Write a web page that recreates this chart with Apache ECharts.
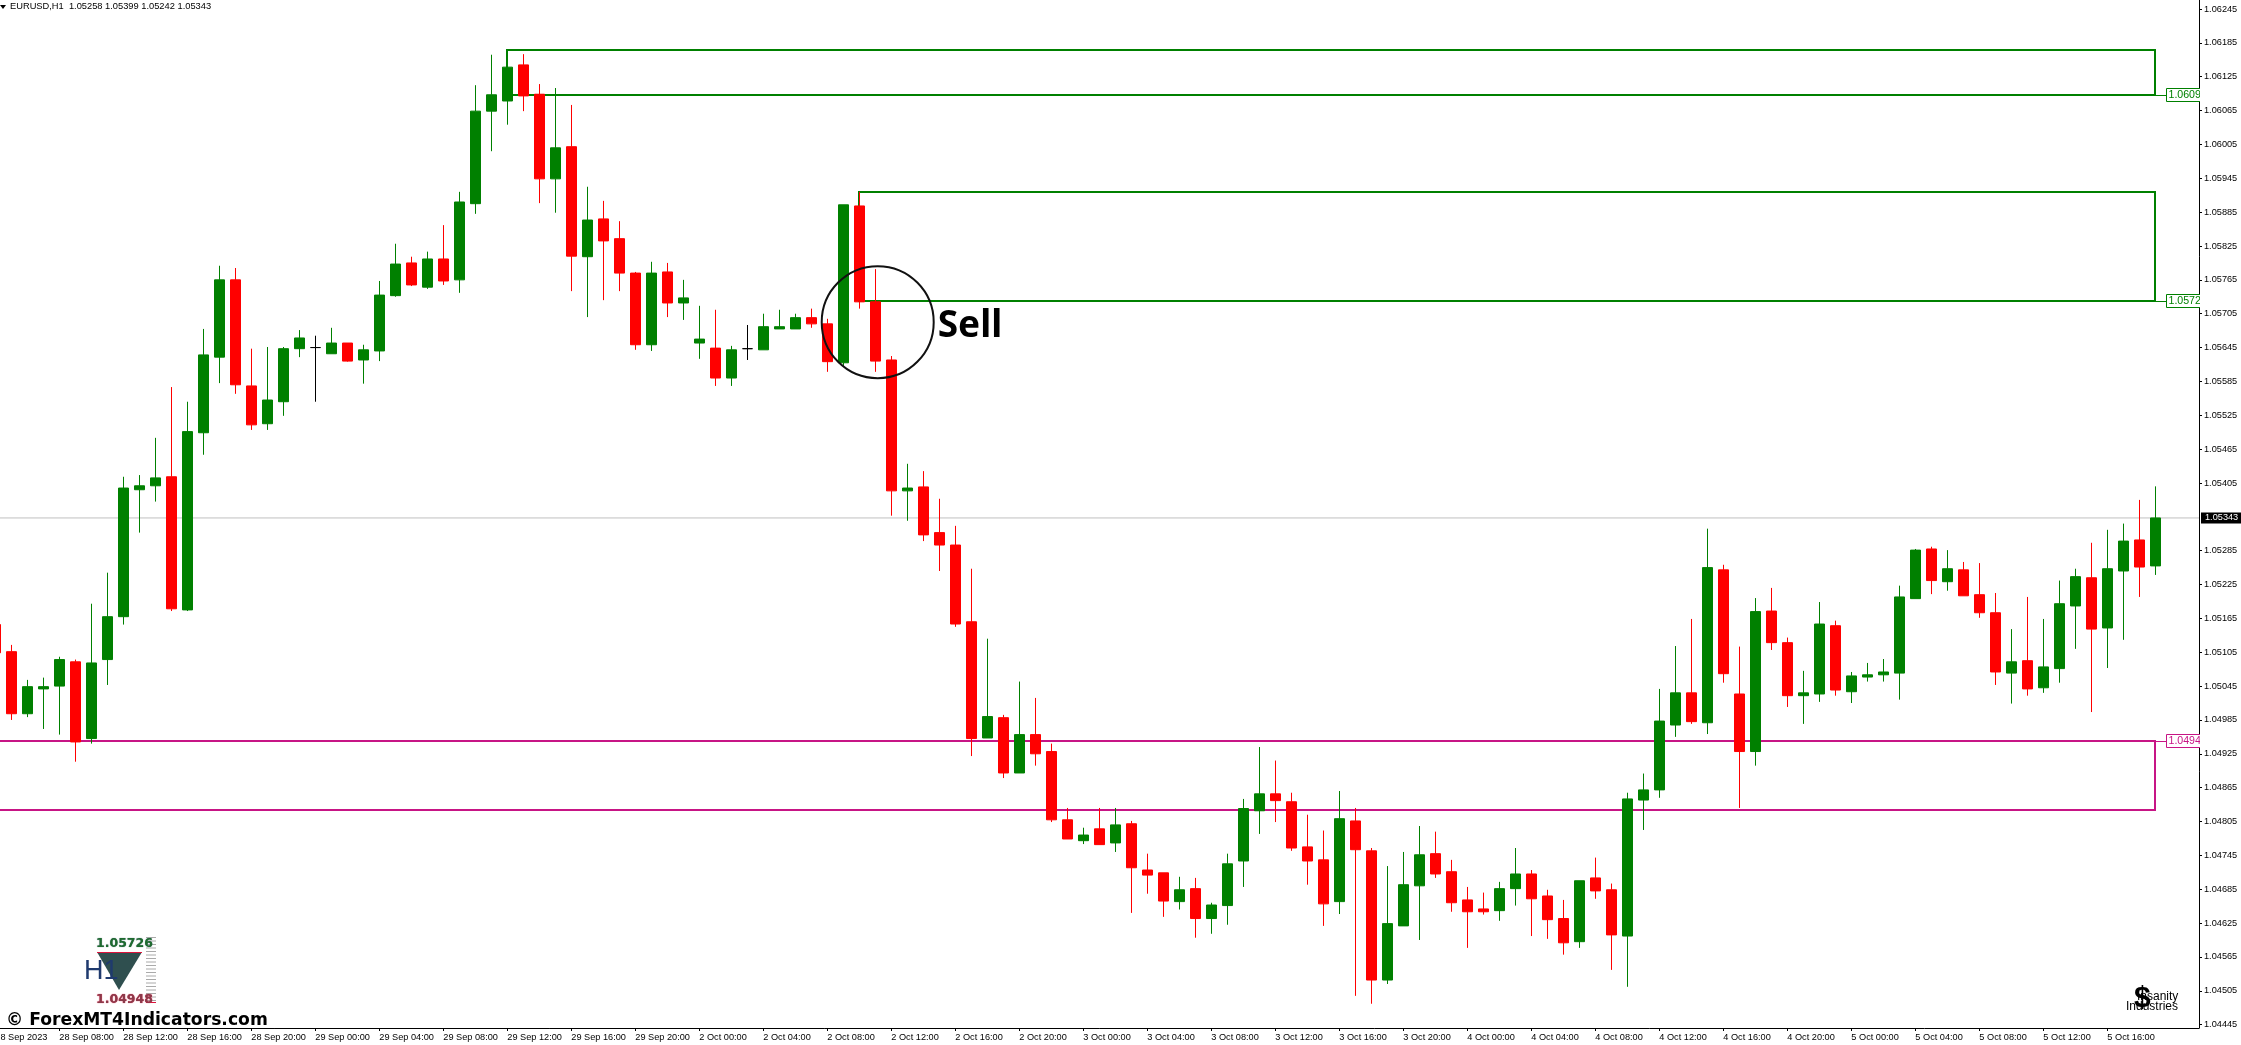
<!DOCTYPE html>
<html>
<head>
<meta charset="utf-8">
<title>EURUSD H1</title>
<script src="https://cdn.jsdelivr.net/npm/echarts@6/dist/echarts.min.js"></script>
<style>
	html, body { margin: 0; padding: 0; background: #fff; }
	#chart { width: 2241px; height: 1045px; }
</style>
</head>
<body>
<div id="chart"></div>
<script>
// hourly bars, first one is cut off by the left edge
var opens = [
	1.05154,1.05106,1.04996,1.05040,1.05045,1.05088,1.04952,1.05092,1.05168,1.05393,
	1.05400,1.05416,1.05180,1.05494,1.05628,1.05765,1.05577,1.05510,1.05549,1.05643,
	1.05645,1.05634,1.05653,1.05623,1.05639,1.05737,1.05795,1.05752,1.05802,1.05765,
	1.05900,1.06064,1.06082,1.06146,1.06094,1.05944,1.06001,1.05806,1.05873,1.05838,
	1.05777,1.05650,1.05779,1.05724,1.05653,1.05644,1.05591,1.05643,1.05641,1.05678,
	1.05678,1.05698,1.05687,1.05618,1.05896,1.05726,1.05623,1.05391,1.05398,1.05317,
	1.05295,1.05159,1.04953,1.04989,1.04891,1.04959,1.04929,1.04808,1.04771,1.04792,
	1.04767,1.04801,1.04719,1.04714,1.04663,1.04686,1.04633,1.04656,1.04735,1.04824,
	1.04854,1.04840,1.04760,1.04737,1.04663,1.04806,1.04753,1.04524,1.04620,1.04691,
	1.04748,1.04716,1.04666,1.04650,1.04647,1.04686,1.04712,1.04673,1.04633,1.04592,
	1.04705,1.04684,1.04602,1.04843,1.04861,1.04976,1.05033,1.04980,1.05251,1.05031,
	1.04929,1.05178,1.05122,1.05028,1.05031,1.05152,1.05035,1.05061,1.05065,1.05068,
	1.05200,1.05288,1.05230,1.05251,1.05207,1.05175,1.05068,1.05090,1.05042,1.05076,
	1.05187,1.05237,1.05148,1.05249,1.05304,1.05258
];
var closes = [
	1.05104,1.04996,1.05044,1.05044,1.05092,1.04946,1.05086,1.05168,1.05396,1.05400,
	1.05414,1.05182,1.05496,1.05632,1.05765,1.05579,1.05508,1.05552,1.05643,1.05662,
	1.05645,1.05653,1.05621,1.05641,1.05738,1.05793,1.05756,1.05802,1.05763,1.05903,
	1.06064,1.06093,1.06142,1.06091,1.05944,1.05999,1.05807,1.05871,1.05834,1.05777,
	1.05650,1.05777,1.05724,1.05733,1.05660,1.05591,1.05641,1.05643,1.05682,1.05682,
	1.05698,1.05687,1.05620,1.05898,1.05726,1.05621,1.05391,1.05396,1.05313,1.05295,
	1.05155,1.04952,1.04991,1.04891,1.04959,1.04925,1.04808,1.04774,1.04781,1.04764,
	1.04799,1.04723,1.04710,1.04664,1.04684,1.04633,1.04657,1.04730,1.04828,1.04854,
	1.04842,1.04758,1.04735,1.04659,1.04810,1.04755,1.04524,1.04624,1.04693,1.04746,
	1.04712,1.04661,1.04645,1.04645,1.04686,1.04712,1.04668,1.04631,1.04590,1.04700,
	1.04682,1.04604,1.04845,1.04861,1.04983,1.05033,1.04982,1.05255,1.05067,1.04929,
	1.05177,1.05122,1.05028,1.05033,1.05155,1.05038,1.05063,1.05065,1.05070,1.05203,
	1.05286,1.05232,1.05253,1.05205,1.05175,1.05070,1.05088,1.05040,1.05079,1.05191,
	1.05239,1.05146,1.05253,1.05302,1.05256,1.05343
];
var lows = [
	1.05104,1.04985,1.04990,1.04969,1.04959,1.04911,1.04943,1.05047,1.05154,1.05317,
	1.05372,1.05178,1.05178,1.05455,1.05582,1.05563,1.05499,1.05499,1.05524,1.05628,
	1.05549,1.05634,1.05620,1.05581,1.05621,1.05735,1.05754,1.05749,1.05756,1.05742,
	1.05882,1.05993,1.06040,1.06064,1.05901,1.05884,1.05745,1.05699,1.05729,1.05745,
	1.05641,1.05639,1.05699,1.05694,1.05625,1.05577,1.05577,1.05623,1.05641,1.05678,
	1.05678,1.05680,1.05602,1.05612,1.05714,1.05602,1.05347,1.05338,1.05302,1.05249,
	1.05150,1.04921,1.04953,1.04882,1.04891,1.04904,1.04804,1.04774,1.04765,1.04764,
	1.04751,1.04643,1.04677,1.04636,1.04649,1.04599,1.04606,1.04622,1.04689,1.04783,
	1.04804,1.04753,1.04693,1.04620,1.04641,1.04496,1.04482,1.04517,1.04620,1.04595,
	1.04705,1.04645,1.04581,1.04640,1.04629,1.04656,1.04602,1.04597,1.04569,1.04581,
	1.04668,1.04542,1.04512,1.04790,1.04847,1.04955,1.04978,1.04960,1.05051,1.04829,
	1.04904,1.05109,1.05008,1.04978,1.05017,1.05028,1.05015,1.05053,1.05053,1.05021,
	1.05200,1.05208,1.05214,1.05205,1.05166,1.05047,1.05014,1.05028,1.05033,1.05051,
	1.05111,1.04999,1.05077,1.05127,1.05203,1.05242
];
var highs = [
	1.05154,1.05118,1.05056,1.05060,1.05097,1.05092,1.05191,1.05246,1.05416,1.05419,
	1.05485,1.05575,1.05549,1.05678,1.05790,1.05786,1.05643,1.05646,1.05646,1.05676,
	1.05666,1.05680,1.05653,1.05650,1.05763,1.05829,1.05806,1.05815,1.05862,1.05921,
	1.06110,1.06164,1.06172,1.06165,1.06112,1.06105,1.06075,1.05930,1.05905,1.05869,
	1.05779,1.05797,1.05795,1.05765,1.05719,1.05712,1.05648,1.05685,1.05705,1.05712,
	1.05705,1.05714,1.05696,1.05898,1.05921,1.05784,1.05630,1.05439,1.05426,1.05377,
	1.05329,1.05253,1.05129,1.04994,1.05053,1.05024,1.04943,1.04829,1.04794,1.04829,
	1.04829,1.04806,1.04748,1.04714,1.04707,1.04705,1.04661,1.04748,1.04845,1.04937,
	1.04913,1.04856,1.04817,1.04789,1.04859,1.04829,1.04758,1.04726,1.04751,1.04797,
	1.04787,1.04737,1.04689,1.04679,1.04698,1.04758,1.04719,1.04684,1.04666,1.04700,
	1.04741,1.04695,1.04856,1.04890,1.05040,1.05116,1.05164,1.05324,1.05260,1.05115,
	1.05201,1.05219,1.05131,1.05072,1.05194,1.05161,1.05070,1.05086,1.05093,1.05223,
	1.05288,1.05292,1.05286,1.05265,1.05263,1.05210,1.05146,1.05203,1.05164,1.05232,
	1.05253,1.05299,1.05322,1.05333,1.05375,1.05399
];

var tickLabels = [
	'28 Sep 2023','28 Sep 08:00','28 Sep 12:00','28 Sep 16:00','28 Sep 20:00',
	'29 Sep 00:00','29 Sep 04:00','29 Sep 08:00','29 Sep 12:00','29 Sep 16:00','29 Sep 20:00',
	'2 Oct 00:00','2 Oct 04:00','2 Oct 08:00','2 Oct 12:00','2 Oct 16:00','2 Oct 20:00',
	'3 Oct 00:00','3 Oct 04:00','3 Oct 08:00','3 Oct 12:00','3 Oct 16:00','3 Oct 20:00',
	'4 Oct 00:00','4 Oct 04:00','4 Oct 08:00','4 Oct 12:00','4 Oct 16:00','4 Oct 20:00',
	'5 Oct 00:00','5 Oct 04:00','5 Oct 08:00','5 Oct 12:00','5 Oct 16:00'
];
var priceTicks = [
	1.06245,1.06185,1.06125,1.06065,1.06005,1.05945,1.05885,1.05825,1.05765,1.05705,
	1.05645,1.05585,1.05525,1.05465,1.05405,1.05285,1.05225,1.05165,1.05105,1.05045,
	1.04985,1.04925,1.04865,1.04805,1.04745,1.04685,1.04625,1.04565,1.04505,1.04445
];

// supply / demand zones
var zoneStart = [32, 54, 0];
var zoneEnd = [135, 135, 135];
var zoneTop = [1.06172, 1.05921, 1.04948];
var zoneBottom = [1.06093, 1.05728, 1.04826];
var zoneLabelPrice = [1.06093, 1.05728, 1.04948];
var zoneLabel = ['1.0609', '1.0572', '1.0494'];
var zoneColor = ['#008000', '#008000', '#C71585'];

var lastPrice = 1.05343;
var sellPoint = [55.15, 1.0569];

var chart = echarts.init(document.getElementById('chart'));
var axisFont = '"Liberation Sans", Arial, sans-serif';
var xMax = 137.73;

function renderZone(params, api) {
	var i = api.value(0);
	var tl = api.coord([zoneStart[i], zoneTop[i]]);
	var br = api.coord([zoneEnd[i], zoneBottom[i]]);
	var lb = api.coord([zoneEnd[i], zoneLabelPrice[i]]);
	var x1 = Math.round(tl[0]), x2 = Math.round(br[0]), y1 = Math.round(tl[1]), y2 = Math.round(br[1]);
	var ly = Math.round(lb[1]);
	var color = zoneColor[i];
	return {
		type: 'group',
		children: [
			{
				type: 'polygon',
				shape: { points: [[x1, y1], [x2, y1], [x2, y2], [x1, y2]] },
				style: { fill: 'none', stroke: color, lineWidth: 2 }
			},
			{
				type: 'line',
				shape: { x1: x2, y1: ly + 0.5, x2: x2 + 12, y2: ly + 0.5 },
				style: { stroke: color, lineWidth: 1 }
			},
			{
				type: 'rect',
				shape: { x: x2 + 11.5, y: ly - 6.5, width: 50, height: 13 },
				style: { fill: '#fff', stroke: color, lineWidth: 1 }
			},
			{
				type: 'text',
				style: {
					x: x2 + 13.5, y: ly + 0.5, text: zoneLabel[i], fill: color,
					font: '10.6px ' + axisFont, verticalAlign: 'middle', align: 'left'
				}
			}
		]
	};
}

// H1 widget at the bottom left
var widget = [
	{ type: 'polygon', shape: { points: [[97, 952], [142, 952], [119, 990]] }, style: { fill: '#2F4F4F' } },
	{ type: 'line', shape: { x1: 97, y1: 952.5, x2: 142, y2: 952.5 }, style: { stroke: '#DC143C', lineWidth: 1 } },
	{ type: 'line', shape: { x1: 146, y1: 1002.5, x2: 156, y2: 1002.5 }, style: { stroke: '#DC143C', lineWidth: 1 } }
];
for (var s = 0; s < 19; s++) {
	widget.push({
		type: 'line',
		shape: { x1: 146, y1: 937.5 + s * 3.5, x2: 156, y2: 937.5 + s * 3.5 },
		style: { stroke: '#AAAAAA', lineWidth: 1 }
	});
}
widget.push(
	{ type: 'text', x: 96, y: 937, style: { text: '1.05726', fill: '#1E6B2E', font: 'bold 12.5px "DejaVu Sans"', textShadowColor: '#556B7F', textShadowBlur: 1 } },
	{ type: 'text', x: 96, y: 993, style: { text: '1.04948', fill: '#8B3A4A', font: 'bold 12.5px "DejaVu Sans"', textShadowColor: '#DC143C', textShadowBlur: 1 } },
	{ type: 'text', x: 84, y: 958, style: { text: 'H1', fill: '#1F3A6E', font: '27px "Liberation Sans"' } }
);

var option = {
	animation: false,
	backgroundColor: '#fff',
	grid: { left: -4.7, right: 42, top: 0, bottom: 17, outerBoundsMode: 'none' },
	xAxis: {
		type: 'value',
		min: 0,
		max: xMax,
		splitLine: { show: false },
		axisLine: { onZero: false, lineStyle: { color: '#000', width: 1 } },
		axisTick: {
			length: 3,
			lineStyle: { color: '#000' },
			customValues: tickLabels.map(function (t, i) { return i * 4; })
		},
		axisLabel: {
			color: '#000',
			fontFamily: axisFont,
			fontSize: 9.2,
			align: 'left',
			margin: 5,
			customValues: tickLabels.map(function (t, i) { return i * 4; }),
			formatter: function (v) { return tickLabels[v / 4]; }
		}
	},
	yAxis: {
		type: 'value',
		position: 'right',
		min: 1.04439,
		max: 1.06261,
		splitLine: { show: false },
		axisLine: { show: true, onZero: false, lineStyle: { color: '#000', width: 1 } },
		axisTick: { show: true, length: 3, lineStyle: { color: '#000' }, customValues: priceTicks },
		axisLabel: {
			color: '#000',
			fontFamily: axisFont,
			fontSize: 9.2,
			margin: 5,
			customValues: priceTicks,
			formatter: function (v) { return v.toFixed(5); }
		}
	},
	series: [
		{
			// current price line and its tag
			name: 'price',
			type: 'line',
			data: [[0, lastPrice], [xMax, lastPrice]],
			z: 1,
			silent: true,
			symbol: 'none',
			lineStyle: { color: '#C0C0C0', width: 1 },
			endLabel: {
				show: true,
				distance: 2,
				formatter: lastPrice.toFixed(5),
				color: '#fff',
				backgroundColor: '#000',
				fontFamily: axisFont,
				fontSize: 9.2,
				padding: [1, 5, 1, 4]
			}
		},
		{
			name: 'zones',
			type: 'custom',
			z: 2,
			clip: true,
			silent: true,
			renderItem: renderZone,
			data: zoneStart.map(function (v, i) { return [i]; })
		},
		{
			name: 'EURUSD,H1',
			type: 'candlestick',
			z: 3,
			barWidth: 10,
			clip: true,
			silent: true,
			itemStyle: {
				color: '#008000',
				color0: '#FF0000',
				borderColor: '#008000',
				borderColor0: '#FF0000',
				borderColorDoji: '#000',
				borderWidth: 1
			},
			data: opens.map(function (o, i) { return [i, o, closes[i], lows[i], highs[i]]; })
		},
		{
			name: 'Sell',
			type: 'scatter',
			z: 4,
			silent: true,
			symbol: 'circle',
			symbolSize: 112,
			itemStyle: { color: 'rgba(0,0,0,0)', borderColor: '#111', borderWidth: 2, opacity: 1 },
			label: {
				show: true,
				position: 'right',
				distance: 3,
				formatter: 'Sell',
				color: '#000',
				fontFamily: '"Noto Sans"',
				fontWeight: 'bold',
				fontSize: 37,
				offset: [0, 4]
			},
			data: [sellPoint]
		}
	],
	graphic: [
		{ type: 'polygon', shape: { points: [[0, 5], [6, 5], [3, 9]] }, style: { fill: '#000' } },
		{ type: 'text', x: 10, y: 2, style: { text: 'EURUSD,H1  1.05258 1.05399 1.05242 1.05343', fill: '#000', font: '9.3px ' + axisFont } },
		{ type: 'text', x: 6, y: 1012, style: { text: '\u00A9 ForexMT4Indicators.com', fill: '#000', font: 'bold 17.2px "DejaVu Sans"' } },
		{ type: 'group', children: widget },
		{ type: 'text', x: 2137, y: 991, style: { text: 'Insanity', fill: '#000', font: '12px ' + axisFont } },
		{ type: 'text', x: 2126, y: 1001, style: { text: 'Industries', fill: '#000', font: '12px ' + axisFont } },
		{ type: 'text', x: 2134, y: 984, style: { text: '$', fill: '#000', font: 'bold 30px "Liberation Sans"' } }
	]
};
chart.setOption(option);
</script>
</body>
</html>
